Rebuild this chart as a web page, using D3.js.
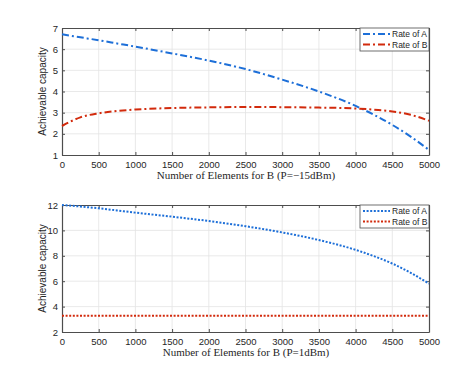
<!DOCTYPE html>
<html>
<head>
<meta charset="utf-8">
<script src="https://cdn.jsdelivr.net/npm/d3@7"></script>
<style>
  body { margin: 0; background: #fff; }
  svg { display: block; }
</style>
</head>
<body>
<script>
const width = 474;
const height = 373;

// x positions (number of elements)
const elements = [0, 250, 500, 750, 1000, 1500, 2000, 2500, 3000, 3500, 4000, 4250, 4500, 4750, 5000];

// top panel (P = -15dBm)
const topRateA = [6.7, 6.56, 6.42, 6.27, 6.12, 5.8, 5.46, 5.06, 4.56, 4.0, 3.32, 2.9, 2.42, 1.87, 1.24];
const topRateB = [2.37, 2.78, 2.97, 3.08, 3.15, 3.22, 3.25, 3.27, 3.26, 3.24, 3.2, 3.14, 3.06, 2.9, 2.62];

// bottom panel (P = 1dBm)
const botRateA = [12.0, 11.88, 11.74, 11.57, 11.4, 11.08, 10.74, 10.33, 9.84, 9.24, 8.47, 7.97, 7.39, 6.66, 5.81];
const botRateB = [3.28, 3.28, 3.28, 3.28, 3.28, 3.28, 3.28, 3.28, 3.28, 3.28, 3.28, 3.28, 3.28, 3.28, 3.28];

const xTicks = [0, 500, 1000, 1500, 2000, 2500, 3000, 3500, 4000, 4500, 5000];
const topYTicks = [1, 2, 3, 4, 5, 6, 7];
const botYTicks = [2, 4, 6, 8, 10, 12];
const seriesNames = ['Rate of A', 'Rate of B'];

const blue = '#1d6fd8';
const red = '#d22a0c';

const svg = d3.select('body')
  .append('svg')
  .attr('width', width)
  .attr('height', height);

function drawPanel(opts) {
  const x = d3.scaleLinear().domain([0, 5000]).range([62, 429]);
  const y = d3.scaleLinear().domain(opts.yDomain).range([opts.bottom, opts.top]);
  const g = svg.append('g');

  // grid
  g.selectAll('.vgrid')
    .data(xTicks.slice(1, -1))
    .join('line')
    .attr('x1', d => x(d)).attr('x2', d => x(d))
    .attr('y1', opts.top).attr('y2', opts.bottom)
    .attr('stroke', '#e3e3e3').attr('stroke-width', 0.8);
  g.selectAll('.hgrid')
    .data(opts.yTicks.slice(1, -1))
    .join('line')
    .attr('x1', 62).attr('x2', 429)
    .attr('y1', d => y(d)).attr('y2', d => y(d))
    .attr('stroke', '#e3e3e3').attr('stroke-width', 0.8);

  // axes
  const fmt = d3.format('d');
  const xAxis = g.append('g')
    .attr('transform', `translate(0,${opts.bottom})`)
    .call(d3.axisBottom(x).tickValues(xTicks).tickFormat(fmt).tickSizeInner(-3).tickSizeOuter(0).tickPadding(6));
  const xAxisTop = g.append('g')
    .attr('transform', `translate(0,${opts.top})`)
    .call(d3.axisTop(x).tickValues(xTicks).tickSizeInner(-3).tickSizeOuter(0).tickFormat(''));
  const yAxis = g.append('g')
    .attr('transform', 'translate(62,0)')
    .call(d3.axisLeft(y).tickValues(opts.yTicks).tickFormat(fmt).tickSizeInner(-3).tickSizeOuter(0).tickPadding(4));
  const yAxisRight = g.append('g')
    .attr('transform', 'translate(429,0)')
    .call(d3.axisRight(y).tickValues(opts.yTicks).tickSizeInner(-3).tickSizeOuter(0).tickFormat(''));

  [xAxis, xAxisTop, yAxis, yAxisRight].forEach(a => {
    a.select('.domain').attr('stroke', '#4d4d4d').attr('stroke-width', 1.2);
    a.selectAll('.tick line').attr('stroke', '#4d4d4d');
    a.selectAll('.tick text')
      .attr('fill', '#262626')
      .style('font-family', 'Liberation Sans, Arial, sans-serif')
      .style('font-size', '9.5px');
  });

  // lines
  const line = d3.line()
    .x((d, i) => x(elements[i]))
    .y(d => y(d))
    .curve(d3.curveMonotoneX);

  const series = [
    { values: opts.a, color: blue },
    { values: opts.b, color: red }
  ];
  g.selectAll('.series')
    .data(series)
    .join('path')
    .attr('d', d => line(d.values))
    .attr('fill', 'none')
    .attr('stroke', d => d.color)
    .attr('stroke-width', 2)
    .attr('stroke-dasharray', opts.dash);

  // x label
  g.append('text')
    .attr('x', 246)
    .attr('y', opts.bottom + 24)
    .attr('text-anchor', 'middle')
    .attr('fill', '#262626')
    .style('font-family', 'Liberation Serif, Times New Roman, serif')
    .style('font-size', '11px')
    .text(opts.xLabel);

  // y label
  g.append('text')
    .attr('transform', `translate(46,${(opts.top + opts.bottom) / 2}) rotate(-90)`)
    .attr('text-anchor', 'middle')
    .attr('fill', '#262626')
    .style('font-family', 'Liberation Sans, Arial, sans-serif')
    .style('font-size', '10px')
    .text('Achievable capacity');

  // legend
  const lg = g.append('g').attr('transform', `translate(360,${opts.top})`);
  lg.append('rect')
    .attr('x', 0).attr('y', 0)
    .attr('width', 69).attr('height', 23)
    .attr('fill', '#fff')
    .attr('stroke', '#4d4d4d')
    .attr('stroke-width', 0.8);
  series.forEach((s, i) => {
    const ly = 6 + i * 10.5;
    lg.append('line')
      .attr('x1', 3).attr('x2', 30)
      .attr('y1', ly).attr('y2', ly)
      .attr('stroke', s.color)
      .attr('stroke-width', 2)
      .attr('stroke-dasharray', opts.dash);
    lg.append('text')
      .attr('x', 32).attr('y', ly + 3)
      .attr('fill', '#262626')
      .style('font-family', 'Liberation Sans, Arial, sans-serif')
      .style('font-size', '8.5px')
      .text(seriesNames[i]);
  });
}

drawPanel({
  top: 28, bottom: 155,
  yDomain: [1, 7], yTicks: topYTicks,
  a: topRateA, b: topRateB,
  dash: '7,3,2,3',
  xLabel: 'Number of Elements for B (P=\u221215dBm)'
});

drawPanel({
  top: 205, bottom: 332,
  yDomain: [2, 12], yTicks: botYTicks,
  a: botRateA, b: botRateB,
  dash: '2,1.6',
  xLabel: 'Number of Elements for B (P=1dBm)'
});
</script>
</body>
</html>
